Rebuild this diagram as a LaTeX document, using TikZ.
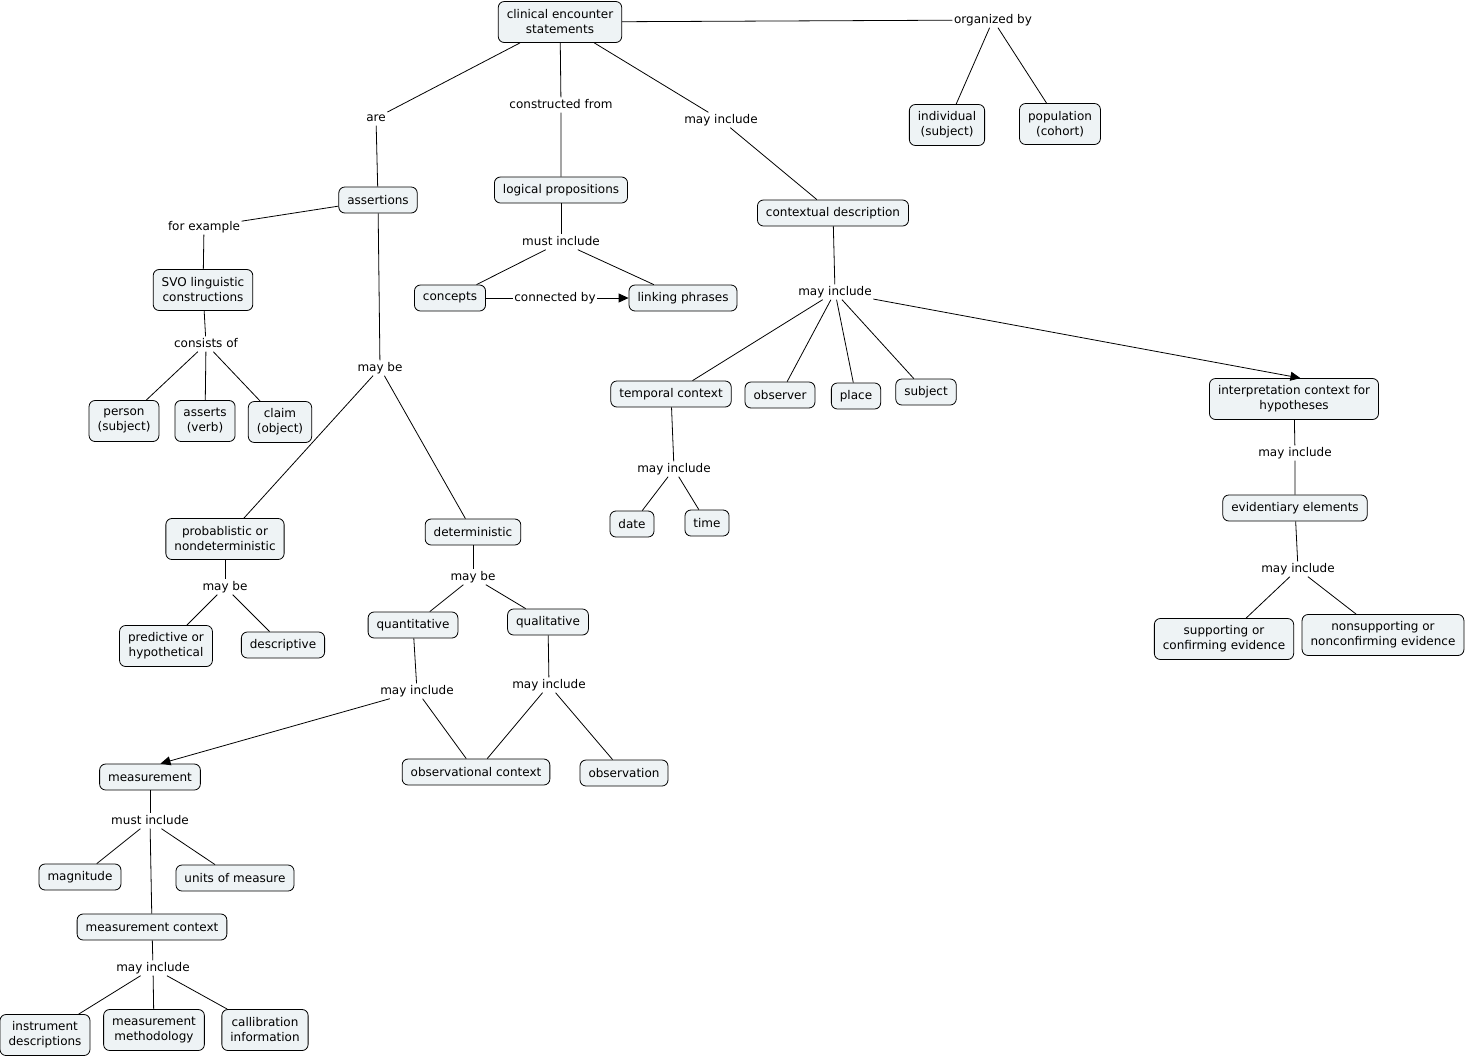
\documentclass[tikz,border=0pt]{standalone}
\usepackage{fontspec}
\setmainfont{DejaVu Sans}
\usetikzlibrary{arrows.meta}
\definecolor{cfill}{RGB}{238,243,245}
\begin{document}
\begin{tikzpicture}[x=1pt,y=-1pt,
 concept/.style={draw=black, fill=cfill, rounded corners=6pt, line width=0.8pt, align=center, inner xsep=8.5pt, inner ysep=3pt, minimum height=26pt, font=\fontsize{12}{15}\selectfont},
 two/.style={minimum height=41pt},
 lbl/.style={inner sep=1.5pt, text height=9pt, text depth=3pt, font=\fontsize{12}{15}\selectfont},
 link/.style={line width=0.8pt},
 arr/.style={link, -{Triangle[length=10pt,width=9pt]}}]
\useasboundingbox (0,0) rectangle (1466,1058);

% concepts
\node[concept,two] (clin) at (560,22) {clinical encounter\\statements};
\node[concept,two] (indiv) at (947,125) {individual\\(subject)};
\node[concept,two] (popul) at (1060,124) {population\\(cohort)};
\node[concept] (assert) at (378,200) {assertions};
\node[concept] (logic) at (561,190) {logical propositions};
\node[concept] (ctxd) at (833,213) {contextual description};
\node[concept,two] (svo) at (203,290) {SVO linguistic\\constructions};
\node[concept] (conc) at (450,298) {concepts};
\node[concept] (linkp) at (683,298) {linking phrases};
\node[concept,two] (person) at (124,421) {person\\(subject)};
\node[concept,two] (asserts) at (205,421) {asserts\\(verb)};
\node[concept,two] (claim) at (280,422) {claim\\(object)};
\node[concept] (temp) at (671,394) {temporal context};
\node[concept] (obsr) at (780,395) {observer};
\node[concept] (place) at (856,396) {place};
\node[concept] (subj) at (926,392) {subject};
\node[concept,two] (interp) at (1294,399) {interpretation context for\\hypotheses};
\node[concept] (date) at (632,524) {date};
\node[concept] (time) at (707,523) {time};
\node[concept] (evid) at (1295,508) {evidentiary elements};
\node[concept,two] (supp) at (1224,639) {supporting or\\confirming evidence};
\node[concept,two] (nonsupp) at (1383,635) {nonsupporting or\\nonconfirming evidence};
\node[concept,two] (prob) at (225,539) {probablistic or\\nondeterministic};
\node[concept] (det) at (473,532) {deterministic};
\node[concept,two] (pred) at (166,646) {predictive or\\hypothetical};
\node[concept] (descr) at (283,645) {descriptive};
\node[concept] (quant) at (413,625) {quantitative};
\node[concept] (qual) at (548,622) {qualitative};
\node[concept] (meas) at (150,777) {measurement};
\node[concept] (obsctx) at (476,772) {observational context};
\node[concept] (obsn) at (624,773) {observation};
\node[concept] (magn) at (80,877) {magnitude};
\node[concept] (units) at (235,878) {units of measure};
\node[concept] (mctx) at (152,927) {measurement context};
\node[concept,two] (instr) at (45,1035) {instrument\\descriptions};
\node[concept,two] (meth) at (154,1030) {measurement\\methodology};
\node[concept,two] (calib) at (265,1030) {callibration\\information};

% linking phrases
\node[lbl] (orgby) at (993,20) {organized by};
\node[lbl] (are) at (376,118) {are};
\node[lbl] (constr) at (561,105) {constructed from};
\node[lbl] (mi1) at (721,120) {may include};
\node[lbl] (forex) at (204,227) {for example};
\node[lbl] (mustinc) at (561,242) {must include};
\node[lbl] (connby) at (555,298) {connected by};
\node[lbl] (mi2) at (835,292) {may include};
\node[lbl] (consof) at (206,344) {consists of};
\node[lbl] (mb1) at (380,368) {may be};
\node[lbl] (mi3) at (674,469) {may include};
\node[lbl] (mi4) at (1295,453) {may include};
\node[lbl] (mi5) at (1298,569) {may include};
\node[lbl] (mb2) at (225,587) {may be};
\node[lbl] (mb3) at (473,577) {may be};
\node[lbl] (mi6) at (417,691) {may include};
\node[lbl] (mi7) at (549,685) {may include};
\node[lbl] (mu2) at (150,821) {must include};
\node[lbl] (mi8) at (153,968) {may include};

% connectors
\draw[link] (clin) -- (orgby);
\draw[link] (orgby) -- (indiv);
\draw[link] (orgby) -- (popul);
\draw[link] (clin) -- (are) -- (assert);
\draw[link] (clin) -- (constr) -- (logic);
\draw[link] (clin) -- (mi1) -- (ctxd);
\draw[link] (assert) -- (forex) -- (svo);
\draw[link] (assert) -- (mb1);
\draw[link] (mb1) -- (prob);
\draw[link] (mb1) -- (det);
\draw[link] (logic) -- (mustinc);
\draw[link] (mustinc) -- (conc);
\draw[link] (mustinc) -- (linkp);
\draw[link] (conc) -- (connby);
\draw[arr] (connby) -- (linkp);
\draw[link] (ctxd) -- (mi2);
\draw[link] (mi2) -- (temp);
\draw[link] (mi2) -- (obsr);
\draw[link] (mi2) -- (place);
\draw[link] (mi2) -- (subj);
\draw[arr] (mi2) -- (interp.73);
\draw[link] (svo) -- (consof);
\draw[link] (consof) -- (person);
\draw[link] (consof) -- (asserts);
\draw[link] (consof) -- (claim);
\draw[link] (temp) -- (mi3);
\draw[link] (mi3) -- (date);
\draw[link] (mi3) -- (time);
\draw[link] (interp) -- (mi4) -- (evid);
\draw[link] (evid) -- (mi5);
\draw[link] (mi5) -- (supp);
\draw[link] (mi5) -- (nonsupp);
\draw[link] (prob) -- (mb2);
\draw[link] (mb2) -- (pred);
\draw[link] (mb2) -- (descr);
\draw[link] (det) -- (mb3);
\draw[link] (mb3) -- (quant);
\draw[link] (mb3) -- (qual);
\draw[link] (quant) -- (mi6);
\draw[arr] (mi6) -- (meas.52);
\draw[link] (mi6) -- (obsctx);
\draw[link] (qual) -- (mi7);
\draw[link] (mi7) -- (obsctx);
\draw[link] (mi7) -- (obsn);
\draw[link] (meas) -- (mu2);
\draw[link] (mu2) -- (magn);
\draw[link] (mu2) -- (units);
\draw[link] (mu2) -- (mctx);
\draw[link] (mctx) -- (mi8);
\draw[link] (mi8) -- (instr);
\draw[link] (mi8) -- (meth);
\draw[link] (mi8) -- (calib);
\end{tikzpicture}
\end{document}
